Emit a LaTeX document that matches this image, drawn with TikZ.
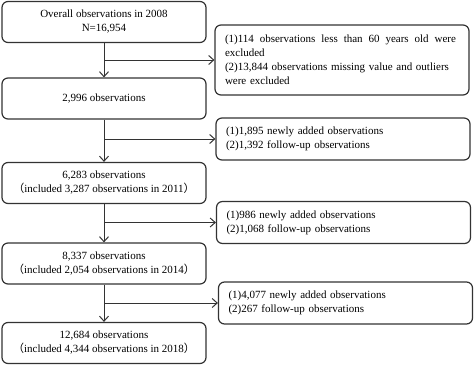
\documentclass[tikz,border=0pt]{standalone}
\usepackage{fontspec}
\setmainfont{Liberation Serif}
\newfontfamily\cjk{Noto Sans CJK SC}
\usetikzlibrary{arrows.meta}

\begin{document}
\begin{tikzpicture}
  [x=1pt,y=-1pt,
   every node/.style={draw=black!80,line width=1.2pt,rounded corners=6pt,
     font=\fontsize{11}{14}\selectfont},
   mainbox/.style={minimum width=204pt,minimum height=41pt,align=center},
   sidebox/.style={text width=234pt,inner xsep=10pt,minimum height=42pt,align=left},
   flow/.style={draw=black!80,line width=1pt,-{Straight Barb[length=5pt,width=9pt]}}]
  \useasboundingbox (0,0) rectangle (474,365);
  \node[mainbox] (n0) at (104,22) {Overall observations in 2008\\N=16,954};
  \node[mainbox] (n1) at (104,98.5) {2,996 observations};
  \node[mainbox] (n2) at (104,183) {6,283 observations\\{\cjk （}included 3,287 observations in 2011{\cjk ）}};
  \node[mainbox] (n3) at (104,263.5) {8,337 observations\\{\cjk （}included 2,054 observations in 2014{\cjk ）}};
  \node[mainbox] (n4) at (104,343) {12,684 observations\\{\cjk （}included 4,344 observations in 2018{\cjk ）}};
  \node[sidebox,minimum height=70pt] (s1) at (342,60)
    {\makebox[231pt][s]{\spaceskip=0.25em plus 1em(1)114 observations less than 60 years old were}\\excluded\\
     (2)13,844 observations missing value and outliers\\were excluded};
  \node[sidebox] (s2) at (343,139) {(1)1,895 newly added observations\\(2)1,392 follow-up observations};
  \node[sidebox] (s3) at (343.5,222.5) {(1)986 newly added observations\\(2)1,068 follow-up observations};
  \node[sidebox] (s4) at (345.5,303) {(1)4,077 newly added observations\\(2)267 follow-up observations};
  \foreach \from/\to in {n0/n1,n1/n2,n2/n3,n3/n4}
    \draw[flow] (\from) -- (\to);
  \foreach \side in {s1,s2,s3,s4}
    \draw[flow] (\side.west -| n0.south) -- (\side.west);
\end{tikzpicture}
\end{document}
